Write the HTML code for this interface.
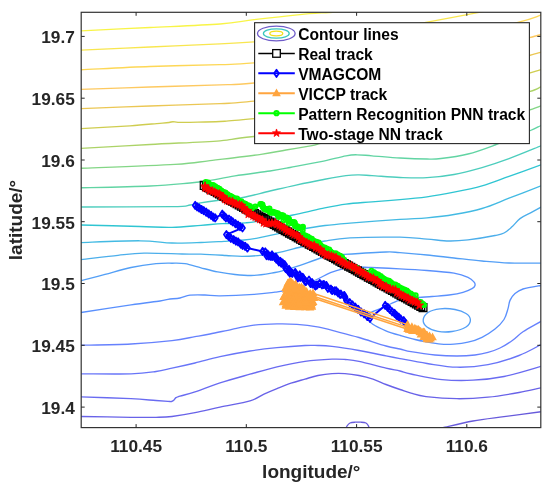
<!DOCTYPE html>
<html><head><meta charset="utf-8"><title>Track comparison</title>
<style>html,body{margin:0;padding:0;background:#fff}svg{display:block}</style></head>
<body>
<svg width="550" height="491" viewBox="0 0 550 491">
<defs><clipPath id="ax"><rect x="81.2" y="12.3" width="459.6" height="415.3"/></clipPath>
<path id="sq" d="M-3.9-3.9H3.9V3.9H-3.9Z" fill="none" stroke="#000" stroke-width="1.3"/>
<path id="di" d="M0-3.7L2.5 0L0 3.7L-2.5 0Z" fill="none" stroke="#0000ff" stroke-width="1.7" stroke-linejoin="round"/>
<path id="tr" d="M0-3.2L3.0 2.1H-3.0Z" fill="#ffa53f" stroke="#ffa53f" stroke-width="1.6" stroke-linejoin="miter"/>
<circle id="ci" r="2.1" fill="none" stroke="#00ff00" stroke-width="2"/>
<path id="st" d="M0.00 -4.50L1.09 -1.50L4.28 -1.39L1.76 0.57L2.65 3.64L0.00 1.85L-2.65 3.64L-1.76 0.57L-4.28 -1.39L-1.09 -1.50Z" fill="#ff0000" stroke="#ff0000" stroke-width="0.8"/>
</defs>
<rect width="550" height="491" fill="#fff"/>
<g clip-path="url(#ax)" fill="none" stroke-width="1.35" stroke-opacity="0.82">
<path d="M70.0 31.5C71.8 31.4 67.7 31.6 81.0 30.9C94.3 30.2 126.8 28.6 150.0 27.5C173.2 26.4 202.7 25.3 220.0 24.0C237.3 22.7 240.7 21.3 254.0 19.7C267.3 18.1 286.5 15.9 300.0 14.6C313.5 13.3 324.2 12.9 335.0 12.0C345.8 11.1 360.0 9.5 365.0 9.0" stroke="#f6f21e"/>
<path d="M70.0 50.7C71.8 50.6 67.7 50.8 81.0 50.2C94.3 49.6 126.8 48.1 150.0 47.0C173.2 45.9 202.7 44.7 220.0 43.8C237.3 42.9 240.7 42.7 254.0 41.8C267.3 40.9 284.0 39.9 300.0 38.5C316.0 37.1 333.3 35.4 350.0 33.5C366.7 31.6 387.6 28.8 400.0 27.0C412.4 25.2 411.3 25.1 424.5 22.7C437.7 20.3 466.4 14.8 479.0 12.4C491.6 10.0 496.5 8.7 500.0 8.0" stroke="#f6e028"/>
<path d="M70.0 70.3C71.8 70.2 67.7 70.4 81.0 69.8C94.3 69.2 126.8 67.3 150.0 66.5C173.2 65.7 202.7 65.3 220.0 64.7C237.3 64.1 232.3 64.8 254.0 62.9C275.7 60.9 317.3 57.1 350.0 53.0C382.7 48.9 422.2 43.0 450.0 38.0C477.8 33.0 501.8 26.5 517.0 22.7C532.2 18.9 535.2 17.1 541.0 15.1C546.8 13.2 550.2 11.7 552.0 11.0" stroke="#fdce31"/>
<path d="M70.0 89.9C71.8 89.8 67.7 89.9 81.0 89.4C94.3 88.9 126.8 87.8 150.0 87.0C173.2 86.2 202.7 85.5 220.0 84.8C237.3 84.1 224.0 85.8 254.0 83.0C284.0 80.2 362.3 73.2 400.0 68.0C437.7 62.8 458.4 57.0 480.0 52.0C501.6 47.0 519.1 40.6 529.3 37.7C539.5 34.8 537.2 35.6 541.0 34.5C544.8 33.4 550.2 31.6 552.0 31.0" stroke="#fdbd3d"/>
<path d="M70.0 109.2C71.8 109.1 67.7 109.2 81.0 108.7C94.3 108.2 126.8 106.8 150.0 106.0C173.2 105.2 202.7 104.4 220.0 103.6C237.3 102.8 224.0 104.0 254.0 101.1C284.0 98.2 362.3 91.2 400.0 86.0C437.7 80.8 458.4 75.1 480.0 70.0C501.6 64.9 519.1 58.5 529.3 55.5C539.5 52.5 537.2 53.3 541.0 52.2C544.8 51.1 550.2 49.5 552.0 49.0" stroke="#e7bb2e"/>
<path d="M70.0 129.2C71.8 129.1 71.0 129.2 81.0 128.6C91.0 128.0 116.8 126.7 130.0 125.8C143.2 124.9 153.5 123.8 160.0 123.3C166.5 122.8 166.8 122.8 169.0 122.5C171.2 122.2 171.5 121.7 173.0 121.7C174.5 121.7 175.2 122.3 178.0 122.4C180.8 122.5 183.0 122.5 190.0 122.3C197.0 122.1 209.3 122.1 220.0 121.5C230.7 120.9 224.0 121.6 254.0 118.7C284.0 115.8 362.3 109.1 400.0 104.0C437.7 98.9 458.4 93.1 480.0 88.0C501.6 82.9 519.1 76.3 529.3 73.2C539.5 70.1 537.2 70.8 541.0 69.6C544.8 68.4 550.2 66.6 552.0 66.0" stroke="#c4c22a"/>
<path d="M70.0 149.0C71.8 148.9 67.7 149.2 81.0 148.4C94.3 147.7 126.8 145.8 150.0 144.5C173.2 143.2 202.7 142.1 220.0 140.8C237.3 139.5 224.0 139.6 254.0 136.5C284.0 133.4 362.3 127.1 400.0 122.0C437.7 116.9 458.4 111.0 480.0 106.0C501.6 101.0 519.1 94.9 529.3 91.7C539.5 88.5 537.2 88.4 541.0 86.8C544.8 85.2 550.2 82.8 552.0 82.0" stroke="#9ac945"/>
<path d="M70.0 168.8C71.8 168.7 63.5 169.0 81.0 168.3C98.5 167.6 153.5 165.7 175.0 164.4C196.5 163.1 195.7 162.3 210.0 160.6C224.3 158.9 248.3 156.1 261.0 154.3C273.7 152.5 277.5 151.4 286.0 150.0C294.5 148.6 304.7 146.9 312.0 145.6C319.3 144.3 315.3 143.4 330.0 142.0C344.7 140.6 375.0 139.7 400.0 137.0C425.0 134.3 458.4 130.5 480.0 126.0C501.6 121.5 519.1 113.3 529.3 110.0C539.5 106.7 537.2 107.2 541.0 105.9C544.8 104.6 550.2 102.7 552.0 102.0" stroke="#68cd6b"/>
<path d="M70.0 188.0C71.8 188.0 67.7 188.1 81.0 187.8C94.3 187.5 131.8 186.8 150.0 186.0C168.2 185.2 180.5 183.8 190.0 183.0C199.5 182.2 199.5 182.2 207.0 181.0C214.5 179.8 224.5 177.6 235.0 175.9C245.5 174.2 260.8 172.4 270.0 171.0C279.2 169.6 281.5 169.1 290.0 167.5C298.5 165.9 311.7 163.5 321.0 161.6C330.3 159.7 340.0 156.9 346.0 155.8C352.0 154.7 352.7 154.8 357.0 154.8C361.3 154.8 364.8 155.3 372.0 155.8C379.2 156.3 390.8 157.5 400.0 158.0C409.2 158.5 420.2 158.9 427.0 159.0C433.8 159.1 434.2 159.3 441.0 158.5C447.8 157.7 459.0 156.2 468.0 154.0C477.0 151.8 484.8 148.8 495.0 145.0C505.2 141.2 521.6 134.2 529.3 131.0C537.0 127.8 537.2 127.3 541.0 125.5C544.8 123.7 550.2 120.9 552.0 120.0" stroke="#3eca8f"/>
<path d="M70.0 207.0C71.8 207.0 64.0 207.1 81.0 207.0C98.0 206.9 153.8 207.0 172.0 206.7C190.2 206.4 185.5 205.6 190.0 205.0C194.5 204.4 194.5 203.9 199.0 203.2C203.5 202.4 209.7 201.4 217.0 200.5C224.3 199.6 234.2 199.1 243.0 197.5C251.8 195.9 261.3 193.0 270.0 191.0C278.7 189.0 286.5 187.1 295.0 185.3C303.5 183.5 312.5 181.6 321.0 180.0C329.5 178.4 339.7 176.4 346.0 175.6C352.3 174.8 354.7 174.9 359.0 174.9C363.3 174.9 365.2 175.2 372.0 175.6C378.8 176.0 390.8 177.2 400.0 177.5C409.2 177.8 418.0 178.2 427.0 177.7C436.0 177.2 444.8 176.2 454.0 174.5C463.2 172.8 472.8 170.2 482.0 167.6C491.2 164.9 499.2 162.2 509.0 158.6C518.8 155.0 533.8 148.7 541.0 145.8C548.2 142.9 550.2 141.8 552.0 141.0" stroke="#24c2ae"/>
<path d="M70.0 224.8C71.8 224.8 69.3 224.7 81.0 225.0C92.7 225.3 124.8 226.1 140.0 226.5C155.2 226.9 161.8 227.5 172.0 227.3C182.2 227.1 192.6 225.9 201.0 225.3C209.4 224.7 215.2 224.0 222.6 223.6C230.0 223.2 239.5 223.2 245.5 222.8C251.5 222.4 250.7 222.5 258.6 221.2C266.5 219.9 282.6 217.1 293.0 215.0C303.4 212.9 312.2 210.5 321.0 208.7C329.8 206.9 337.5 205.2 346.0 204.1C354.5 202.9 363.0 202.6 372.0 201.8C381.0 201.1 390.8 200.4 400.0 199.6C409.2 198.8 418.0 198.0 427.0 196.8C436.0 195.6 444.8 194.0 454.0 192.2C463.2 190.4 472.8 188.5 482.0 185.9C491.2 183.3 499.2 179.9 509.0 176.4C518.8 172.9 533.8 167.5 541.0 164.9C548.2 162.3 550.2 161.7 552.0 161.0" stroke="#01b8c8"/>
<path d="M70.0 243.0C71.8 242.9 69.3 243.0 81.0 242.6C92.7 242.2 124.8 240.7 140.0 240.8C155.2 240.9 161.8 242.7 172.0 243.0C182.2 243.3 192.3 242.8 201.0 242.5C209.7 242.2 216.8 241.7 224.0 241.3C231.2 240.9 238.2 240.6 244.0 240.0C249.8 239.4 253.4 238.8 258.6 237.9C263.8 237.0 268.1 235.7 275.0 234.3C281.9 232.9 291.7 231.0 300.0 229.5C308.3 228.0 316.7 226.6 325.0 225.5C333.3 224.4 337.5 224.1 350.0 223.1C362.5 222.1 387.2 220.3 400.0 219.4C412.8 218.5 418.0 218.6 427.0 217.8C436.0 217.0 444.8 216.1 454.0 214.5C463.2 212.9 472.8 211.2 482.0 208.5C491.2 205.8 499.2 202.0 509.0 198.2C518.8 194.4 533.8 188.7 541.0 185.9C548.2 183.1 550.2 182.2 552.0 181.5" stroke="#1aabdd"/>
<path d="M70.0 261.0C71.8 260.8 73.0 260.6 81.0 259.6C89.0 258.7 107.5 256.4 118.0 255.3C128.5 254.2 133.3 253.4 144.0 253.2C154.7 253.0 172.5 253.8 182.0 254.0C191.5 254.2 193.7 253.9 201.0 254.2C208.3 254.4 219.2 255.1 226.0 255.5C232.8 255.9 236.0 256.4 242.0 256.4C248.0 256.3 256.2 255.8 262.0 255.2C267.8 254.6 269.7 254.4 276.5 253.0C283.3 251.6 294.5 248.5 302.6 246.5C310.7 244.5 317.1 242.4 325.0 241.0C332.9 239.6 337.5 238.4 350.0 237.8C362.5 237.2 387.2 237.0 400.0 237.2C412.8 237.4 418.8 238.5 427.0 239.1C435.2 239.7 442.2 240.9 449.0 241.0C455.8 241.1 460.3 240.8 468.0 239.9C475.7 239.0 489.0 236.7 495.0 235.5C501.0 234.3 501.2 234.4 504.0 233.0C506.8 231.6 509.3 229.2 512.0 226.8C514.7 224.4 516.8 221.0 520.0 218.6C523.2 216.2 527.5 214.5 531.0 212.6C534.5 210.7 537.5 209.1 541.0 207.2C544.5 205.3 550.2 202.0 552.0 201.0" stroke="#259ce7"/>
<path d="M70.0 283.5C71.8 283.0 75.2 282.2 81.0 280.7C86.8 279.2 96.7 276.6 105.0 274.4C113.3 272.2 122.5 269.3 131.0 267.5C139.5 265.7 149.2 264.4 156.0 263.7C162.8 263.0 167.2 263.2 172.0 263.2C176.8 263.2 180.2 262.9 185.0 263.7C189.8 264.5 195.6 266.4 201.0 267.8C206.4 269.2 212.0 270.8 217.7 271.9C223.4 273.0 228.9 273.9 235.0 274.5C241.1 275.1 247.3 275.7 254.0 275.4C260.7 275.1 270.0 273.3 275.0 272.5C280.0 271.7 280.2 271.4 284.0 270.4C287.8 269.3 291.6 268.3 297.7 266.2C303.8 264.1 315.1 259.8 320.6 258.0C326.1 256.2 326.8 256.1 330.5 255.5C334.2 254.9 333.8 255.1 343.0 254.5C352.2 253.9 376.5 252.3 386.0 252.0C395.5 251.7 393.2 252.2 400.0 252.7C406.8 253.2 418.0 254.1 427.0 255.0C436.0 255.9 444.8 257.0 454.0 258.0C463.2 259.0 472.8 260.2 482.0 261.0C491.2 261.8 499.2 262.6 509.0 263.0C518.8 263.4 533.8 263.1 541.0 263.1C548.2 263.1 550.2 263.0 552.0 263.0" stroke="#2d8af4"/>
<path d="M70.0 314.0C71.8 313.8 70.8 314.0 81.0 312.5C91.2 311.0 117.8 306.8 131.0 304.9C144.2 303.0 153.8 301.9 160.0 301.0C166.2 300.1 164.7 299.8 168.0 299.3C171.3 298.8 176.3 298.7 180.0 298.0C183.7 297.3 185.8 295.7 190.0 295.2C194.2 294.7 200.0 294.9 205.0 295.0C210.0 295.1 211.8 295.9 220.0 295.8C228.2 295.7 244.8 295.0 254.0 294.4C263.2 293.8 269.9 292.8 275.0 292.2C280.1 291.6 280.4 291.6 284.6 290.7C288.8 289.8 294.8 288.3 300.0 286.5C305.2 284.7 310.6 282.3 315.7 280.0C320.8 277.7 325.9 274.6 330.5 272.7C335.1 270.8 339.4 269.6 343.5 268.6C347.6 267.7 350.4 267.2 355.0 267.0C359.6 266.8 363.5 267.2 371.0 267.5C378.5 267.8 390.7 268.3 400.0 268.8C409.3 269.3 418.0 269.8 427.0 270.5C436.0 271.2 447.2 272.1 454.0 273.2C460.8 274.3 464.7 275.8 468.0 277.3C471.3 278.8 472.8 280.6 474.0 282.0C475.2 283.4 475.3 284.4 475.0 285.5C474.7 286.6 474.0 287.6 472.0 288.7C470.0 289.8 466.8 291.2 463.0 292.3C459.2 293.4 454.2 294.3 449.0 295.0C443.8 295.7 437.8 296.0 432.0 296.5C426.2 297.0 419.5 297.4 414.0 298.0C408.5 298.6 403.9 298.8 399.0 300.3C394.1 301.8 389.2 304.8 384.5 306.8C379.8 308.9 373.4 311.1 370.6 312.6C367.8 314.1 367.9 314.9 367.5 316.0C367.1 317.1 367.6 318.1 368.5 319.5C369.4 320.9 369.9 322.4 372.8 324.3C375.7 326.2 381.3 328.9 385.9 330.8C390.5 332.7 395.6 334.1 400.5 335.5C405.4 336.9 410.6 338.4 415.0 339.5C419.4 340.6 422.7 341.2 427.0 342.0C431.3 342.8 436.5 343.8 441.0 344.1C445.5 344.5 449.5 344.4 454.0 344.1C458.5 343.8 463.3 343.3 468.0 342.2C472.7 341.1 477.5 339.5 482.0 337.3C486.5 335.1 491.3 332.1 495.0 329.1C498.7 326.1 501.8 322.9 504.0 319.5C506.2 316.1 507.0 311.8 508.0 308.6C509.0 305.4 508.8 302.9 510.0 300.4C511.2 297.9 512.8 295.5 515.0 293.6C517.2 291.7 518.7 290.4 523.0 289.0C527.3 287.6 536.2 286.3 541.0 285.5C545.8 284.7 550.2 284.2 552.0 284.0" stroke="#3678fd"/>
<path d="M423.2 320.0C423.4 317.6 425.2 314.4 428.0 312.5C430.8 310.6 435.5 309.3 440.0 308.8C444.5 308.3 450.7 308.7 455.0 309.5C459.3 310.3 463.4 311.8 466.0 313.5C468.6 315.2 470.4 317.8 470.4 320.0C470.4 322.2 469.1 325.1 466.0 327.0C462.9 328.9 456.7 330.8 452.0 331.5C447.3 332.2 442.2 332.1 438.0 331.3C433.8 330.6 429.5 328.9 427.0 327.0C424.5 325.1 423.0 322.4 423.2 320.0Z" stroke="#2d8af4"/>
<path d="M70.0 345.4C71.8 345.4 70.8 345.4 81.0 345.2C91.2 345.0 115.8 344.8 131.0 344.0C146.2 343.2 161.3 341.8 172.0 340.6C182.7 339.4 188.7 337.8 195.0 336.7C201.3 335.6 203.8 335.2 210.0 334.0C216.2 332.8 224.7 330.8 232.0 329.3C239.3 327.8 246.5 326.1 254.0 325.2C261.5 324.3 269.8 324.0 277.0 323.9C284.2 323.8 290.0 323.8 297.0 324.3C304.0 324.8 312.7 326.0 319.0 327.1C325.3 328.2 328.3 329.5 335.0 331.2C341.7 332.9 350.5 335.0 359.0 337.5C367.5 340.0 379.2 344.1 386.0 346.0C392.8 347.9 395.8 348.1 400.0 349.0C404.2 349.9 405.2 350.7 411.0 351.7C416.8 352.7 427.3 354.3 435.0 355.0C442.7 355.7 450.3 356.0 457.0 356.0C463.7 356.0 469.8 355.6 475.0 355.0C480.2 354.4 483.8 353.6 488.0 352.4C492.2 351.2 495.8 350.1 500.0 348.0C504.2 345.9 509.2 342.7 513.0 340.0C516.8 337.3 518.3 334.9 523.0 331.8C527.7 328.7 536.2 324.2 541.0 321.4C545.8 318.6 550.2 316.1 552.0 315.0" stroke="#4465fd"/>
<path d="M70.0 373.8C71.8 373.8 70.8 373.8 81.0 373.8C91.2 373.8 118.5 374.2 131.0 373.8C143.5 373.4 149.2 372.4 156.0 371.5C162.8 370.6 165.5 369.6 172.0 368.2C178.5 366.8 187.0 364.9 195.0 363.0C203.0 361.1 210.8 358.7 220.0 356.7C229.2 354.7 240.5 352.5 250.0 351.0C259.5 349.5 267.8 348.6 277.0 347.7C286.2 346.8 298.2 345.9 305.0 345.5C311.8 345.1 313.5 345.4 318.0 345.5C322.5 345.6 325.2 345.6 332.0 346.4C338.8 347.2 350.0 348.9 359.0 350.5C368.0 352.1 379.2 354.5 386.0 355.9C392.8 357.2 393.2 357.3 400.0 358.6C406.8 359.9 417.5 362.1 427.0 363.5C436.5 364.9 446.8 367.0 457.0 367.2C467.2 367.4 477.7 366.6 488.0 364.7C498.3 362.8 510.2 358.9 519.0 355.5C527.8 352.1 535.5 347.4 541.0 344.6C546.5 341.9 550.2 339.9 552.0 339.0" stroke="#4757f7"/>
<path d="M70.0 396.5C71.8 396.6 70.8 396.5 81.0 396.9C91.2 397.3 118.5 398.1 131.0 398.7C143.5 399.3 149.8 400.1 156.0 400.5C162.2 400.9 165.4 401.1 168.0 401.3C170.6 401.5 170.5 401.7 171.5 401.5C172.5 401.3 173.2 400.6 174.0 400.0C174.8 399.4 175.0 398.2 176.0 397.6C177.0 397.0 176.8 397.2 180.0 396.2C183.2 395.2 188.3 394.0 195.0 391.8C201.7 389.6 210.8 385.8 220.0 382.9C229.2 380.0 240.5 376.9 250.0 374.2C259.5 371.5 267.8 368.9 277.0 366.8C286.2 364.7 295.8 362.7 305.0 361.4C314.2 360.1 325.3 359.5 332.0 359.2C338.7 358.9 340.5 359.1 345.0 359.5C349.5 359.9 352.2 359.9 359.0 361.4C365.8 362.8 379.2 366.6 386.0 368.2C392.8 369.8 395.8 370.0 400.0 371.0C404.2 372.0 404.0 372.6 411.0 374.0C418.0 375.4 431.7 378.6 442.0 379.6C452.3 380.6 462.7 380.7 473.0 380.2C483.3 379.7 492.7 378.8 504.0 376.5C515.3 374.2 533.0 368.6 541.0 366.3C549.0 364.1 550.2 363.6 552.0 363.0" stroke="#484aee"/>
<path d="M70.0 416.4C71.8 416.4 70.8 416.4 81.0 416.5C91.2 416.6 118.5 417.2 131.0 417.3C143.5 417.4 149.2 417.4 156.0 417.3C162.8 417.2 165.5 417.3 172.0 416.5C178.5 415.7 187.0 414.3 195.0 412.7C203.0 411.1 210.8 409.1 220.0 407.1C229.2 405.1 242.7 403.1 250.0 400.9C257.3 398.7 259.5 396.2 264.0 394.1C268.5 392.1 272.5 390.4 277.0 388.6C281.5 386.8 286.3 384.8 291.0 383.2C295.7 381.6 300.5 380.4 305.0 379.1C309.5 377.8 313.5 376.4 318.0 375.5C322.5 374.6 327.5 373.9 332.0 373.6C336.5 373.3 340.5 373.3 345.0 373.6C349.5 373.9 354.3 374.6 359.0 375.5C363.7 376.4 368.5 377.6 373.0 379.1C377.5 380.6 381.5 382.8 386.0 384.5C390.5 386.2 395.8 388.1 400.0 389.5C404.2 390.9 406.7 392.0 411.0 393.2C415.3 394.4 418.3 395.7 426.0 396.6C433.7 397.5 446.7 398.6 457.0 398.7C467.3 398.8 477.7 398.2 488.0 397.2C498.3 396.2 510.2 394.1 519.0 392.5C527.8 390.9 535.5 389.0 541.0 387.9C546.5 386.8 550.2 386.3 552.0 386.0" stroke="#473fe3"/>
<path d="M434.0 430.0C435.8 429.5 438.5 428.7 445.0 427.2C451.5 425.7 463.2 422.8 473.0 421.0C482.8 419.2 492.7 418.2 504.0 416.7C515.3 415.1 533.0 412.8 541.0 411.7C549.0 410.6 550.2 410.3 552.0 410.0" stroke="#4536d3"/>
<path d="M345.5 430.0C345.8 429.3 346.2 427.2 347.0 426.0C347.8 424.8 348.7 423.6 350.0 423.0C351.3 422.4 353.2 422.3 355.0 422.2C356.8 422.1 359.2 422.1 361.0 422.2C362.8 422.3 364.8 422.4 366.0 423.0C367.2 423.6 367.9 424.8 368.5 426.0C369.1 427.2 369.3 429.3 369.5 430.0" stroke="#4536d3"/>
</g>
<g clip-path="url(#ax)">
<path d="M204.2 185.4L206.4 186.6L208.6 187.8L210.8 189.1L213.0 190.3L215.1 191.5L217.3 192.7L219.5 194.0L221.7 195.2L223.9 196.4L226.1 197.6L228.3 198.8L230.5 200.1L232.6 201.3L234.8 202.5L237.0 203.7L239.2 205.0L241.4 206.2L243.6 207.4L245.8 208.6L248.0 209.8L250.1 211.1L252.3 212.3L254.5 213.5L256.7 214.7L258.9 216.0L261.1 217.2L263.3 218.4L265.5 219.6L267.7 220.8L269.8 222.1L272.0 223.3L274.2 224.5L276.4 225.7L278.6 226.9L280.8 228.2L283.0 229.4L285.2 230.6L287.3 231.8L289.5 233.1L291.7 234.3L293.9 235.5L296.1 236.7L298.3 237.9L300.5 239.2L302.7 240.4L304.8 241.6L307.0 242.8L309.2 244.1L311.4 245.3L313.6 246.5L315.8 247.7L318.0 248.9L320.2 250.2L322.4 251.4L324.5 252.6L326.7 253.8L328.9 255.1L331.1 256.3L333.3 257.5L335.5 258.7L337.7 259.9L339.9 261.2L342.0 262.4L344.2 263.6L346.4 264.8L348.6 266.1L350.8 267.3L353.0 268.5L355.2 269.7L357.4 270.9L359.5 272.2L361.7 273.4L363.9 274.6L366.1 275.8L368.3 277.1L370.5 278.3L372.7 279.5L374.9 280.7L377.1 281.9L379.2 283.2L381.4 284.4L383.6 285.6L385.8 286.8L388.0 288.0L390.2 289.3L392.4 290.5L394.6 291.7L396.7 292.9L398.9 294.2L401.1 295.4L403.3 296.6L405.5 297.8L407.7 299.0L409.9 300.3L412.1 301.5L414.2 302.7L416.4 303.9L418.6 305.2L420.8 306.4L423.0 307.6" fill="none" stroke="#000" stroke-width="1.2" stroke-linejoin="round"/>
<use href="#sq" x="204.2" y="185.4"/><use href="#sq" x="206.4" y="186.6"/><use href="#sq" x="208.6" y="187.8"/><use href="#sq" x="210.8" y="189.1"/><use href="#sq" x="213.0" y="190.3"/><use href="#sq" x="215.1" y="191.5"/><use href="#sq" x="217.3" y="192.7"/><use href="#sq" x="219.5" y="194.0"/><use href="#sq" x="221.7" y="195.2"/><use href="#sq" x="223.9" y="196.4"/><use href="#sq" x="226.1" y="197.6"/><use href="#sq" x="228.3" y="198.8"/><use href="#sq" x="230.5" y="200.1"/><use href="#sq" x="232.6" y="201.3"/><use href="#sq" x="234.8" y="202.5"/><use href="#sq" x="237.0" y="203.7"/><use href="#sq" x="239.2" y="205.0"/><use href="#sq" x="241.4" y="206.2"/><use href="#sq" x="243.6" y="207.4"/><use href="#sq" x="245.8" y="208.6"/><use href="#sq" x="248.0" y="209.8"/><use href="#sq" x="250.1" y="211.1"/><use href="#sq" x="252.3" y="212.3"/><use href="#sq" x="254.5" y="213.5"/><use href="#sq" x="256.7" y="214.7"/><use href="#sq" x="258.9" y="216.0"/><use href="#sq" x="261.1" y="217.2"/><use href="#sq" x="263.3" y="218.4"/><use href="#sq" x="265.5" y="219.6"/><use href="#sq" x="267.7" y="220.8"/><use href="#sq" x="269.8" y="222.1"/><use href="#sq" x="272.0" y="223.3"/><use href="#sq" x="274.2" y="224.5"/><use href="#sq" x="276.4" y="225.7"/><use href="#sq" x="278.6" y="226.9"/><use href="#sq" x="280.8" y="228.2"/><use href="#sq" x="283.0" y="229.4"/><use href="#sq" x="285.2" y="230.6"/><use href="#sq" x="287.3" y="231.8"/><use href="#sq" x="289.5" y="233.1"/><use href="#sq" x="291.7" y="234.3"/><use href="#sq" x="293.9" y="235.5"/><use href="#sq" x="296.1" y="236.7"/><use href="#sq" x="298.3" y="237.9"/><use href="#sq" x="300.5" y="239.2"/><use href="#sq" x="302.7" y="240.4"/><use href="#sq" x="304.8" y="241.6"/><use href="#sq" x="307.0" y="242.8"/><use href="#sq" x="309.2" y="244.1"/><use href="#sq" x="311.4" y="245.3"/><use href="#sq" x="313.6" y="246.5"/><use href="#sq" x="315.8" y="247.7"/><use href="#sq" x="318.0" y="248.9"/><use href="#sq" x="320.2" y="250.2"/><use href="#sq" x="322.4" y="251.4"/><use href="#sq" x="324.5" y="252.6"/><use href="#sq" x="326.7" y="253.8"/><use href="#sq" x="328.9" y="255.1"/><use href="#sq" x="331.1" y="256.3"/><use href="#sq" x="333.3" y="257.5"/><use href="#sq" x="335.5" y="258.7"/><use href="#sq" x="337.7" y="259.9"/><use href="#sq" x="339.9" y="261.2"/><use href="#sq" x="342.0" y="262.4"/><use href="#sq" x="344.2" y="263.6"/><use href="#sq" x="346.4" y="264.8"/><use href="#sq" x="348.6" y="266.1"/><use href="#sq" x="350.8" y="267.3"/><use href="#sq" x="353.0" y="268.5"/><use href="#sq" x="355.2" y="269.7"/><use href="#sq" x="357.4" y="270.9"/><use href="#sq" x="359.5" y="272.2"/><use href="#sq" x="361.7" y="273.4"/><use href="#sq" x="363.9" y="274.6"/><use href="#sq" x="366.1" y="275.8"/><use href="#sq" x="368.3" y="277.1"/><use href="#sq" x="370.5" y="278.3"/><use href="#sq" x="372.7" y="279.5"/><use href="#sq" x="374.9" y="280.7"/><use href="#sq" x="377.1" y="281.9"/><use href="#sq" x="379.2" y="283.2"/><use href="#sq" x="381.4" y="284.4"/><use href="#sq" x="383.6" y="285.6"/><use href="#sq" x="385.8" y="286.8"/><use href="#sq" x="388.0" y="288.0"/><use href="#sq" x="390.2" y="289.3"/><use href="#sq" x="392.4" y="290.5"/><use href="#sq" x="394.6" y="291.7"/><use href="#sq" x="396.7" y="292.9"/><use href="#sq" x="398.9" y="294.2"/><use href="#sq" x="401.1" y="295.4"/><use href="#sq" x="403.3" y="296.6"/><use href="#sq" x="405.5" y="297.8"/><use href="#sq" x="407.7" y="299.0"/><use href="#sq" x="409.9" y="300.3"/><use href="#sq" x="412.1" y="301.5"/><use href="#sq" x="414.2" y="302.7"/><use href="#sq" x="416.4" y="303.9"/><use href="#sq" x="418.6" y="305.2"/><use href="#sq" x="420.8" y="306.4"/><use href="#sq" x="423.0" y="307.6"/>
<path d="M195.2 205.4L197.1 206.8L199.2 208.0L201.5 209.5L203.7 210.6L206.2 212.2L208.7 213.9L211.1 215.4L213.3 217.1L215.2 217.9L222.3 214.2L224.3 216.2L225.9 217.8L229.0 219.1L231.1 220.7L232.8 221.9L235.5 223.7L238.0 225.1L240.1 226.6L242.5 227.9L226.4 234.6L228.6 236.4L230.9 238.3L233.6 239.6L235.9 241.1L238.1 241.9L240.7 244.1L242.6 245.3L245.1 246.3L247.4 248.0L262.6 251.4L265.3 251.9L266.7 255.7L267.6 254.1L268.9 256.0L270.9 256.4L272.0 254.9L272.3 256.4L274.9 257.4L275.9 257.1L276.3 259.1L278.9 261.8L280.2 261.3L281.3 263.2L282.5 263.0L284.6 264.6L286.1 268.7L285.5 268.0L288.4 271.2L289.0 269.4L289.8 273.1L291.1 272.6L292.3 273.3L295.2 272.5L296.3 274.8L297.7 276.4L297.8 277.8L299.7 274.9L300.2 277.4L302.5 277.3L303.3 278.2L305.1 281.1L305.9 281.6L309.0 280.1L310.6 283.5L312.1 282.7L312.6 284.0L315.3 285.7L315.6 285.8L317.0 285.0L319.7 283.5L322.0 284.9L323.8 284.5L326.3 285.5L327.9 288.3L330.9 289.1L332.2 290.5L334.8 290.8L336.2 290.9L338.1 292.9L340.1 294.4L340.9 294.2L344.2 295.5L345.1 297.2L346.4 300.6L349.7 302.6L352.5 304.9L355.3 307.2L358.1 309.3L361.0 312.0L364.1 313.8L367.3 316.5L370.0 318.3L385.2 305.4L387.6 307.3L389.7 309.4L392.2 311.9L394.6 313.4L396.5 315.4L398.7 317.1L400.6 319.0L403.7 320.7L405.5 323.1" fill="none" stroke="#0000ff" stroke-width="2" stroke-linejoin="round"/>
<use href="#di" x="195.2" y="205.4"/><use href="#di" x="197.1" y="206.8"/><use href="#di" x="199.2" y="208.0"/><use href="#di" x="201.5" y="209.5"/><use href="#di" x="203.7" y="210.6"/><use href="#di" x="206.2" y="212.2"/><use href="#di" x="208.7" y="213.9"/><use href="#di" x="211.1" y="215.4"/><use href="#di" x="213.3" y="217.1"/><use href="#di" x="215.2" y="217.9"/><use href="#di" x="222.3" y="214.2"/><use href="#di" x="224.3" y="216.2"/><use href="#di" x="225.9" y="217.8"/><use href="#di" x="229.0" y="219.1"/><use href="#di" x="231.1" y="220.7"/><use href="#di" x="232.8" y="221.9"/><use href="#di" x="235.5" y="223.7"/><use href="#di" x="238.0" y="225.1"/><use href="#di" x="240.1" y="226.6"/><use href="#di" x="242.5" y="227.9"/><use href="#di" x="226.4" y="234.6"/><use href="#di" x="228.6" y="236.4"/><use href="#di" x="230.9" y="238.3"/><use href="#di" x="233.6" y="239.6"/><use href="#di" x="235.9" y="241.1"/><use href="#di" x="238.1" y="241.9"/><use href="#di" x="240.7" y="244.1"/><use href="#di" x="242.6" y="245.3"/><use href="#di" x="245.1" y="246.3"/><use href="#di" x="247.4" y="248.0"/><use href="#di" x="262.6" y="251.4"/><use href="#di" x="265.3" y="251.9"/><use href="#di" x="266.7" y="255.7"/><use href="#di" x="267.6" y="254.1"/><use href="#di" x="268.9" y="256.0"/><use href="#di" x="270.9" y="256.4"/><use href="#di" x="272.0" y="254.9"/><use href="#di" x="272.3" y="256.4"/><use href="#di" x="274.9" y="257.4"/><use href="#di" x="275.9" y="257.1"/><use href="#di" x="276.3" y="259.1"/><use href="#di" x="278.9" y="261.8"/><use href="#di" x="280.2" y="261.3"/><use href="#di" x="281.3" y="263.2"/><use href="#di" x="282.5" y="263.0"/><use href="#di" x="284.6" y="264.6"/><use href="#di" x="286.1" y="268.7"/><use href="#di" x="285.5" y="268.0"/><use href="#di" x="288.4" y="271.2"/><use href="#di" x="289.0" y="269.4"/><use href="#di" x="289.8" y="273.1"/><use href="#di" x="291.1" y="272.6"/><use href="#di" x="292.3" y="273.3"/><use href="#di" x="295.2" y="272.5"/><use href="#di" x="296.3" y="274.8"/><use href="#di" x="297.7" y="276.4"/><use href="#di" x="297.8" y="277.8"/><use href="#di" x="299.7" y="274.9"/><use href="#di" x="300.2" y="277.4"/><use href="#di" x="302.5" y="277.3"/><use href="#di" x="303.3" y="278.2"/><use href="#di" x="305.1" y="281.1"/><use href="#di" x="305.9" y="281.6"/><use href="#di" x="309.0" y="280.1"/><use href="#di" x="310.6" y="283.5"/><use href="#di" x="312.1" y="282.7"/><use href="#di" x="312.6" y="284.0"/><use href="#di" x="315.3" y="285.7"/><use href="#di" x="315.6" y="285.8"/><use href="#di" x="317.0" y="285.0"/><use href="#di" x="319.7" y="283.5"/><use href="#di" x="322.0" y="284.9"/><use href="#di" x="323.8" y="284.5"/><use href="#di" x="326.3" y="285.5"/><use href="#di" x="327.9" y="288.3"/><use href="#di" x="330.9" y="289.1"/><use href="#di" x="332.2" y="290.5"/><use href="#di" x="334.8" y="290.8"/><use href="#di" x="336.2" y="290.9"/><use href="#di" x="338.1" y="292.9"/><use href="#di" x="340.1" y="294.4"/><use href="#di" x="340.9" y="294.2"/><use href="#di" x="344.2" y="295.5"/><use href="#di" x="345.1" y="297.2"/><use href="#di" x="346.4" y="300.6"/><use href="#di" x="349.7" y="302.6"/><use href="#di" x="352.5" y="304.9"/><use href="#di" x="355.3" y="307.2"/><use href="#di" x="358.1" y="309.3"/><use href="#di" x="361.0" y="312.0"/><use href="#di" x="364.1" y="313.8"/><use href="#di" x="367.3" y="316.5"/><use href="#di" x="370.0" y="318.3"/><use href="#di" x="385.2" y="305.4"/><use href="#di" x="387.6" y="307.3"/><use href="#di" x="389.7" y="309.4"/><use href="#di" x="392.2" y="311.9"/><use href="#di" x="394.6" y="313.4"/><use href="#di" x="396.5" y="315.4"/><use href="#di" x="398.7" y="317.1"/><use href="#di" x="400.6" y="319.0"/><use href="#di" x="403.7" y="320.7"/><use href="#di" x="405.5" y="323.1"/>
<path d="M290.3 282.9L295.2 290.1L311.4 304.8L299.8 298.6L304.6 301.5L297.4 293.9L304.2 299.1L299.9 295.0L291.5 290.6L288.9 282.9L298.9 298.3L305.4 307.3L292.8 289.1L310.3 300.6L288.4 301.4L288.5 289.0L285.6 288.2L294.2 285.9L290.6 286.7L293.6 303.6L294.2 307.1L287.3 287.1L295.6 303.2L308.4 306.3L292.9 283.8L290.0 299.8L292.0 283.9L288.9 291.1L296.3 291.8L310.5 300.6L311.3 301.8L292.1 287.0L287.5 301.1L288.9 289.0L303.6 298.3L308.4 304.5L301.5 287.4L289.4 282.8L285.8 305.8L310.7 297.5L298.0 303.5L311.9 306.9L289.9 302.0L302.7 296.3L288.3 287.3L289.7 295.6L310.2 293.7L295.0 293.8L286.2 299.0L295.6 284.2L291.9 294.4L293.6 289.0L296.1 303.5L295.4 305.8L304.3 306.8L294.1 292.2L299.8 307.3L295.4 304.5L288.3 288.4L299.7 287.8L307.5 306.3L302.8 293.8L296.0 295.0L296.2 297.7L297.0 289.8L309.0 302.1L307.9 302.0L299.1 287.6L307.8 303.3L310.0 307.5L299.1 307.1L287.9 283.5L305.8 306.2L286.4 302.3L302.0 305.8L293.7 301.5L302.3 297.9L303.4 289.6L299.5 306.2L288.5 295.0L303.7 291.1L283.6 297.0L313.1 302.2L304.5 290.0L289.4 306.5L287.6 295.9L299.3 297.1L291.8 284.8L309.8 299.8L292.7 301.0L306.4 304.4L301.0 289.7L290.1 297.1L289.9 282.5L289.1 306.7L304.0 298.9L297.8 304.2L306.5 304.9L296.6 300.1L288.1 296.4L306.3 296.8L306.5 300.5L293.8 303.4L311.1 306.1L312.2 303.2L304.1 303.7L292.1 289.3L290.7 299.8L294.0 285.5L296.6 301.8L293.2 299.4L298.7 302.7L287.0 291.8L293.2 303.9L290.8 281.7L306.6 291.9L284.2 296.9L283.1 302.4L306.5 302.3L295.2 288.2L287.8 283.5L294.4 305.8L288.9 290.6L300.2 301.2L308.6 297.3L293.2 285.8L285.9 304.4L305.2 300.7L286.4 289.8L309.4 294.9L313.0 293.2L407.5 324.6L408.0 327.4L313.5 296.3L313.8 298.2L407.6 329.2L409.1 329.9L409.6 329.1L411.9 327.1L410.6 330.1L411.9 328.6L412.5 330.9L412.8 330.9L414.1 330.6L414.9 328.6L414.9 329.4L414.8 331.0L416.9 329.5L416.9 330.1L417.3 331.2L418.6 329.9L418.8 330.5L419.7 331.5L420.2 331.8L420.2 331.9L420.4 332.4L421.9 332.2L420.9 334.7L422.3 333.5L423.4 332.3L423.8 333.1L424.4 332.6L423.8 337.0L424.5 335.3L425.7 335.4L426.6 335.2L426.8 336.2L427.4 335.8L427.2 338.3L426.9 338.9L427.5 339.4L429.6 336.3L429.4 339.5L430.2 338.2L430.4 338.5L432.5 337.4" fill="none" stroke="#ffa53f" stroke-width="1.5" stroke-linejoin="round"/>
<use href="#tr" x="290.3" y="282.9"/><use href="#tr" x="295.2" y="290.1"/><use href="#tr" x="311.4" y="304.8"/><use href="#tr" x="299.8" y="298.6"/><use href="#tr" x="304.6" y="301.5"/><use href="#tr" x="297.4" y="293.9"/><use href="#tr" x="304.2" y="299.1"/><use href="#tr" x="299.9" y="295.0"/><use href="#tr" x="291.5" y="290.6"/><use href="#tr" x="288.9" y="282.9"/><use href="#tr" x="298.9" y="298.3"/><use href="#tr" x="305.4" y="307.3"/><use href="#tr" x="292.8" y="289.1"/><use href="#tr" x="310.3" y="300.6"/><use href="#tr" x="288.4" y="301.4"/><use href="#tr" x="288.5" y="289.0"/><use href="#tr" x="285.6" y="288.2"/><use href="#tr" x="294.2" y="285.9"/><use href="#tr" x="290.6" y="286.7"/><use href="#tr" x="293.6" y="303.6"/><use href="#tr" x="294.2" y="307.1"/><use href="#tr" x="287.3" y="287.1"/><use href="#tr" x="295.6" y="303.2"/><use href="#tr" x="308.4" y="306.3"/><use href="#tr" x="292.9" y="283.8"/><use href="#tr" x="290.0" y="299.8"/><use href="#tr" x="292.0" y="283.9"/><use href="#tr" x="288.9" y="291.1"/><use href="#tr" x="296.3" y="291.8"/><use href="#tr" x="310.5" y="300.6"/><use href="#tr" x="311.3" y="301.8"/><use href="#tr" x="292.1" y="287.0"/><use href="#tr" x="287.5" y="301.1"/><use href="#tr" x="288.9" y="289.0"/><use href="#tr" x="303.6" y="298.3"/><use href="#tr" x="308.4" y="304.5"/><use href="#tr" x="301.5" y="287.4"/><use href="#tr" x="289.4" y="282.8"/><use href="#tr" x="285.8" y="305.8"/><use href="#tr" x="310.7" y="297.5"/><use href="#tr" x="298.0" y="303.5"/><use href="#tr" x="311.9" y="306.9"/><use href="#tr" x="289.9" y="302.0"/><use href="#tr" x="302.7" y="296.3"/><use href="#tr" x="288.3" y="287.3"/><use href="#tr" x="289.7" y="295.6"/><use href="#tr" x="310.2" y="293.7"/><use href="#tr" x="295.0" y="293.8"/><use href="#tr" x="286.2" y="299.0"/><use href="#tr" x="295.6" y="284.2"/><use href="#tr" x="291.9" y="294.4"/><use href="#tr" x="293.6" y="289.0"/><use href="#tr" x="296.1" y="303.5"/><use href="#tr" x="295.4" y="305.8"/><use href="#tr" x="304.3" y="306.8"/><use href="#tr" x="294.1" y="292.2"/><use href="#tr" x="299.8" y="307.3"/><use href="#tr" x="295.4" y="304.5"/><use href="#tr" x="288.3" y="288.4"/><use href="#tr" x="299.7" y="287.8"/><use href="#tr" x="307.5" y="306.3"/><use href="#tr" x="302.8" y="293.8"/><use href="#tr" x="296.0" y="295.0"/><use href="#tr" x="296.2" y="297.7"/><use href="#tr" x="297.0" y="289.8"/><use href="#tr" x="309.0" y="302.1"/><use href="#tr" x="307.9" y="302.0"/><use href="#tr" x="299.1" y="287.6"/><use href="#tr" x="307.8" y="303.3"/><use href="#tr" x="310.0" y="307.5"/><use href="#tr" x="299.1" y="307.1"/><use href="#tr" x="287.9" y="283.5"/><use href="#tr" x="305.8" y="306.2"/><use href="#tr" x="286.4" y="302.3"/><use href="#tr" x="302.0" y="305.8"/><use href="#tr" x="293.7" y="301.5"/><use href="#tr" x="302.3" y="297.9"/><use href="#tr" x="303.4" y="289.6"/><use href="#tr" x="299.5" y="306.2"/><use href="#tr" x="288.5" y="295.0"/><use href="#tr" x="303.7" y="291.1"/><use href="#tr" x="283.6" y="297.0"/><use href="#tr" x="313.1" y="302.2"/><use href="#tr" x="304.5" y="290.0"/><use href="#tr" x="289.4" y="306.5"/><use href="#tr" x="287.6" y="295.9"/><use href="#tr" x="299.3" y="297.1"/><use href="#tr" x="291.8" y="284.8"/><use href="#tr" x="309.8" y="299.8"/><use href="#tr" x="292.7" y="301.0"/><use href="#tr" x="306.4" y="304.4"/><use href="#tr" x="301.0" y="289.7"/><use href="#tr" x="290.1" y="297.1"/><use href="#tr" x="289.9" y="282.5"/><use href="#tr" x="289.1" y="306.7"/><use href="#tr" x="304.0" y="298.9"/><use href="#tr" x="297.8" y="304.2"/><use href="#tr" x="306.5" y="304.9"/><use href="#tr" x="296.6" y="300.1"/><use href="#tr" x="288.1" y="296.4"/><use href="#tr" x="306.3" y="296.8"/><use href="#tr" x="306.5" y="300.5"/><use href="#tr" x="293.8" y="303.4"/><use href="#tr" x="311.1" y="306.1"/><use href="#tr" x="312.2" y="303.2"/><use href="#tr" x="304.1" y="303.7"/><use href="#tr" x="292.1" y="289.3"/><use href="#tr" x="290.7" y="299.8"/><use href="#tr" x="294.0" y="285.5"/><use href="#tr" x="296.6" y="301.8"/><use href="#tr" x="293.2" y="299.4"/><use href="#tr" x="298.7" y="302.7"/><use href="#tr" x="287.0" y="291.8"/><use href="#tr" x="293.2" y="303.9"/><use href="#tr" x="290.8" y="281.7"/><use href="#tr" x="306.6" y="291.9"/><use href="#tr" x="284.2" y="296.9"/><use href="#tr" x="283.1" y="302.4"/><use href="#tr" x="306.5" y="302.3"/><use href="#tr" x="295.2" y="288.2"/><use href="#tr" x="287.8" y="283.5"/><use href="#tr" x="294.4" y="305.8"/><use href="#tr" x="288.9" y="290.6"/><use href="#tr" x="300.2" y="301.2"/><use href="#tr" x="308.6" y="297.3"/><use href="#tr" x="293.2" y="285.8"/><use href="#tr" x="285.9" y="304.4"/><use href="#tr" x="305.2" y="300.7"/><use href="#tr" x="286.4" y="289.8"/><use href="#tr" x="309.4" y="294.9"/><use href="#tr" x="313.0" y="293.2"/><use href="#tr" x="407.5" y="324.6"/><use href="#tr" x="408.0" y="327.4"/><use href="#tr" x="313.5" y="296.3"/><use href="#tr" x="313.8" y="298.2"/><use href="#tr" x="407.6" y="329.2"/><use href="#tr" x="409.1" y="329.9"/><use href="#tr" x="409.6" y="329.1"/><use href="#tr" x="411.9" y="327.1"/><use href="#tr" x="410.6" y="330.1"/><use href="#tr" x="411.9" y="328.6"/><use href="#tr" x="412.5" y="330.9"/><use href="#tr" x="412.8" y="330.9"/><use href="#tr" x="414.1" y="330.6"/><use href="#tr" x="414.9" y="328.6"/><use href="#tr" x="414.9" y="329.4"/><use href="#tr" x="414.8" y="331.0"/><use href="#tr" x="416.9" y="329.5"/><use href="#tr" x="416.9" y="330.1"/><use href="#tr" x="417.3" y="331.2"/><use href="#tr" x="418.6" y="329.9"/><use href="#tr" x="418.8" y="330.5"/><use href="#tr" x="419.7" y="331.5"/><use href="#tr" x="420.2" y="331.8"/><use href="#tr" x="420.2" y="331.9"/><use href="#tr" x="420.4" y="332.4"/><use href="#tr" x="421.9" y="332.2"/><use href="#tr" x="420.9" y="334.7"/><use href="#tr" x="422.3" y="333.5"/><use href="#tr" x="423.4" y="332.3"/><use href="#tr" x="423.8" y="333.1"/><use href="#tr" x="424.4" y="332.6"/><use href="#tr" x="423.8" y="337.0"/><use href="#tr" x="424.5" y="335.3"/><use href="#tr" x="425.7" y="335.4"/><use href="#tr" x="426.6" y="335.2"/><use href="#tr" x="426.8" y="336.2"/><use href="#tr" x="427.4" y="335.8"/><use href="#tr" x="427.2" y="338.3"/><use href="#tr" x="426.9" y="338.9"/><use href="#tr" x="427.5" y="339.4"/><use href="#tr" x="429.6" y="336.3"/><use href="#tr" x="429.4" y="339.5"/><use href="#tr" x="430.2" y="338.2"/><use href="#tr" x="430.4" y="338.5"/><use href="#tr" x="432.5" y="337.4"/>
<path d="M205.8 182.2L208.2 182.6L210.4 184.5L213.1 185.1L215.1 186.3L217.5 187.9L219.4 188.8L221.3 190.5L223.2 191.9L225.4 192.7L227.5 194.4L230.2 195.9L232.0 196.8L234.2 198.2L237.0 198.5L238.4 200.5L241.3 201.4L243.4 203.2L245.4 203.9L248.1 205.4L249.8 206.0L252.1 207.9L255.3 206.5L260.4 204.0L261.1 204.0L262.4 204.7L262.6 206.5L263.1 207.3L264.2 208.7L265.6 209.6L266.8 209.2L269.4 208.5L268.8 210.8L269.6 211.6L270.6 212.7L273.1 211.9L273.4 212.7L275.3 212.5L276.1 213.2L277.9 213.3L277.8 215.2L278.7 216.8L280.8 215.0L282.1 215.3L283.3 215.7L283.6 217.1L283.6 220.2L286.7 217.7L287.4 218.6L288.9 218.9L288.9 221.0L288.9 223.5L291.3 221.8L292.6 223.0L294.1 222.1L294.8 223.0L294.9 225.7L296.2 226.3L297.4 226.4L298.4 227.9L299.6 227.5L301.5 227.6L302.9 226.8L302.6 230.3L303.0 234.4L305.4 235.6L307.8 236.7L309.7 238.1L311.8 238.9L313.8 240.9L316.4 241.9L318.7 242.6L320.3 244.9L322.1 246.7L324.7 247.7L326.6 248.7L329.2 249.6L330.6 251.6L332.6 253.2L335.7 253.4L337.7 254.7L340.2 255.8L342.0 257.2L343.7 259.6L344.9 262.2L346.8 264.0L349.1 265.2L351.1 266.6L353.4 267.6L356.4 267.8L357.6 270.1L359.8 271.0L363.0 271.5L364.8 273.7L366.8 273.7L371.5 270.8L374.0 272.4L375.9 273.9L378.2 274.5L380.6 276.0L382.2 277.7L384.1 278.8L386.5 280.1L389.0 280.9L390.9 282.3L392.8 284.0L395.3 284.7L397.7 285.8L399.9 287.6L402.0 288.7L404.4 289.5L406.7 290.6L408.2 292.0L410.8 293.6L412.5 295.2L415.6 295.3L416.0 299.2L417.7 301.5L420.7 302.1L422.5 303.9L424.0 305.0" fill="none" stroke="#00ff00" stroke-width="2" stroke-linejoin="round"/>
<use href="#ci" x="205.8" y="182.2"/><use href="#ci" x="208.2" y="182.6"/><use href="#ci" x="210.4" y="184.5"/><use href="#ci" x="213.1" y="185.1"/><use href="#ci" x="215.1" y="186.3"/><use href="#ci" x="217.5" y="187.9"/><use href="#ci" x="219.4" y="188.8"/><use href="#ci" x="221.3" y="190.5"/><use href="#ci" x="223.2" y="191.9"/><use href="#ci" x="225.4" y="192.7"/><use href="#ci" x="227.5" y="194.4"/><use href="#ci" x="230.2" y="195.9"/><use href="#ci" x="232.0" y="196.8"/><use href="#ci" x="234.2" y="198.2"/><use href="#ci" x="237.0" y="198.5"/><use href="#ci" x="238.4" y="200.5"/><use href="#ci" x="241.3" y="201.4"/><use href="#ci" x="243.4" y="203.2"/><use href="#ci" x="245.4" y="203.9"/><use href="#ci" x="248.1" y="205.4"/><use href="#ci" x="249.8" y="206.0"/><use href="#ci" x="252.1" y="207.9"/><use href="#ci" x="255.3" y="206.5"/><use href="#ci" x="260.4" y="204.0"/><use href="#ci" x="261.1" y="204.0"/><use href="#ci" x="262.4" y="204.7"/><use href="#ci" x="262.6" y="206.5"/><use href="#ci" x="263.1" y="207.3"/><use href="#ci" x="264.2" y="208.7"/><use href="#ci" x="265.6" y="209.6"/><use href="#ci" x="266.8" y="209.2"/><use href="#ci" x="269.4" y="208.5"/><use href="#ci" x="268.8" y="210.8"/><use href="#ci" x="269.6" y="211.6"/><use href="#ci" x="270.6" y="212.7"/><use href="#ci" x="273.1" y="211.9"/><use href="#ci" x="273.4" y="212.7"/><use href="#ci" x="275.3" y="212.5"/><use href="#ci" x="276.1" y="213.2"/><use href="#ci" x="277.9" y="213.3"/><use href="#ci" x="277.8" y="215.2"/><use href="#ci" x="278.7" y="216.8"/><use href="#ci" x="280.8" y="215.0"/><use href="#ci" x="282.1" y="215.3"/><use href="#ci" x="283.3" y="215.7"/><use href="#ci" x="283.6" y="217.1"/><use href="#ci" x="283.6" y="220.2"/><use href="#ci" x="286.7" y="217.7"/><use href="#ci" x="287.4" y="218.6"/><use href="#ci" x="288.9" y="218.9"/><use href="#ci" x="288.9" y="221.0"/><use href="#ci" x="288.9" y="223.5"/><use href="#ci" x="291.3" y="221.8"/><use href="#ci" x="292.6" y="223.0"/><use href="#ci" x="294.1" y="222.1"/><use href="#ci" x="294.8" y="223.0"/><use href="#ci" x="294.9" y="225.7"/><use href="#ci" x="296.2" y="226.3"/><use href="#ci" x="297.4" y="226.4"/><use href="#ci" x="298.4" y="227.9"/><use href="#ci" x="299.6" y="227.5"/><use href="#ci" x="301.5" y="227.6"/><use href="#ci" x="302.9" y="226.8"/><use href="#ci" x="302.6" y="230.3"/><use href="#ci" x="303.0" y="234.4"/><use href="#ci" x="305.4" y="235.6"/><use href="#ci" x="307.8" y="236.7"/><use href="#ci" x="309.7" y="238.1"/><use href="#ci" x="311.8" y="238.9"/><use href="#ci" x="313.8" y="240.9"/><use href="#ci" x="316.4" y="241.9"/><use href="#ci" x="318.7" y="242.6"/><use href="#ci" x="320.3" y="244.9"/><use href="#ci" x="322.1" y="246.7"/><use href="#ci" x="324.7" y="247.7"/><use href="#ci" x="326.6" y="248.7"/><use href="#ci" x="329.2" y="249.6"/><use href="#ci" x="330.6" y="251.6"/><use href="#ci" x="332.6" y="253.2"/><use href="#ci" x="335.7" y="253.4"/><use href="#ci" x="337.7" y="254.7"/><use href="#ci" x="340.2" y="255.8"/><use href="#ci" x="342.0" y="257.2"/><use href="#ci" x="343.7" y="259.6"/><use href="#ci" x="344.9" y="262.2"/><use href="#ci" x="346.8" y="264.0"/><use href="#ci" x="349.1" y="265.2"/><use href="#ci" x="351.1" y="266.6"/><use href="#ci" x="353.4" y="267.6"/><use href="#ci" x="356.4" y="267.8"/><use href="#ci" x="357.6" y="270.1"/><use href="#ci" x="359.8" y="271.0"/><use href="#ci" x="363.0" y="271.5"/><use href="#ci" x="364.8" y="273.7"/><use href="#ci" x="366.8" y="273.7"/><use href="#ci" x="371.5" y="270.8"/><use href="#ci" x="374.0" y="272.4"/><use href="#ci" x="375.9" y="273.9"/><use href="#ci" x="378.2" y="274.5"/><use href="#ci" x="380.6" y="276.0"/><use href="#ci" x="382.2" y="277.7"/><use href="#ci" x="384.1" y="278.8"/><use href="#ci" x="386.5" y="280.1"/><use href="#ci" x="389.0" y="280.9"/><use href="#ci" x="390.9" y="282.3"/><use href="#ci" x="392.8" y="284.0"/><use href="#ci" x="395.3" y="284.7"/><use href="#ci" x="397.7" y="285.8"/><use href="#ci" x="399.9" y="287.6"/><use href="#ci" x="402.0" y="288.7"/><use href="#ci" x="404.4" y="289.5"/><use href="#ci" x="406.7" y="290.6"/><use href="#ci" x="408.2" y="292.0"/><use href="#ci" x="410.8" y="293.6"/><use href="#ci" x="412.5" y="295.2"/><use href="#ci" x="415.6" y="295.3"/><use href="#ci" x="416.0" y="299.2"/><use href="#ci" x="417.7" y="301.5"/><use href="#ci" x="420.7" y="302.1"/><use href="#ci" x="422.5" y="303.9"/><use href="#ci" x="424.0" y="305.0"/>
<path d="M205.0 186.3L205.5 188.1L208.0 188.8L209.7 190.9L212.5 191.1L214.8 192.2L216.9 193.5L219.5 193.9L221.2 196.1L223.5 197.1L225.1 199.3L227.2 200.7L229.8 201.3L232.5 201.6L234.3 203.5L236.7 204.2L239.3 204.8L241.7 205.7L243.3 207.9L245.0 210.0L247.3 211.0L248.5 214.1L251.3 214.1L253.3 215.8L255.5 216.9L257.7 218.1L259.9 219.3L262.3 220.1L263.7 222.7L266.2 223.5L269.1 223.4L272.0 223.3L275.2 222.7L277.2 224.4L279.4 225.6L281.5 226.8L283.9 227.7L285.7 229.7L287.7 231.3L290.2 231.9L292.3 233.3L294.3 234.7L296.9 235.3L298.8 237.1L300.4 239.3L302.6 240.4L304.6 242.1L307.0 242.9L309.2 244.1L311.2 245.7L314.2 245.4L315.8 247.7L318.2 248.5L320.5 249.5L321.9 252.1L324.2 253.1L326.0 255.2L328.8 255.2L331.3 255.9L333.6 257.0L336.1 257.5L337.8 259.7L340.2 260.5L342.2 262.1L344.3 263.5L346.4 264.9L349.0 265.3L351.5 265.9L353.5 267.5L356.0 268.3L357.6 270.5L360.1 271.1L362.0 272.8L364.4 273.8L366.4 275.3L368.3 277.1L370.8 277.8L373.4 278.2L375.1 280.3L377.6 280.9L379.3 283.0L381.2 284.7L383.2 286.3L386.0 286.4L387.8 288.4L390.3 289.0L392.9 289.6L395.5 290.0L396.9 292.6L399.2 293.6L401.3 295.1L403.6 296.0L405.8 297.3L408.2 298.2L410.1 299.9L412.6 300.6L414.8 301.8L417.3 302.4L419.3 305.4" fill="none" stroke="#ff0000" stroke-width="2" stroke-linejoin="round"/>
<use href="#st" x="205.0" y="186.3"/><use href="#st" x="205.5" y="188.1"/><use href="#st" x="208.0" y="188.8"/><use href="#st" x="209.7" y="190.9"/><use href="#st" x="212.5" y="191.1"/><use href="#st" x="214.8" y="192.2"/><use href="#st" x="216.9" y="193.5"/><use href="#st" x="219.5" y="193.9"/><use href="#st" x="221.2" y="196.1"/><use href="#st" x="223.5" y="197.1"/><use href="#st" x="225.1" y="199.3"/><use href="#st" x="227.2" y="200.7"/><use href="#st" x="229.8" y="201.3"/><use href="#st" x="232.5" y="201.6"/><use href="#st" x="234.3" y="203.5"/><use href="#st" x="236.7" y="204.2"/><use href="#st" x="239.3" y="204.8"/><use href="#st" x="241.7" y="205.7"/><use href="#st" x="243.3" y="207.9"/><use href="#st" x="245.0" y="210.0"/><use href="#st" x="247.3" y="211.0"/><use href="#st" x="248.5" y="214.1"/><use href="#st" x="251.3" y="214.1"/><use href="#st" x="253.3" y="215.8"/><use href="#st" x="255.5" y="216.9"/><use href="#st" x="257.7" y="218.1"/><use href="#st" x="259.9" y="219.3"/><use href="#st" x="262.3" y="220.1"/><use href="#st" x="263.7" y="222.7"/><use href="#st" x="266.2" y="223.5"/><use href="#st" x="269.1" y="223.4"/><use href="#st" x="272.0" y="223.3"/><use href="#st" x="275.2" y="222.7"/><use href="#st" x="277.2" y="224.4"/><use href="#st" x="279.4" y="225.6"/><use href="#st" x="281.5" y="226.8"/><use href="#st" x="283.9" y="227.7"/><use href="#st" x="285.7" y="229.7"/><use href="#st" x="287.7" y="231.3"/><use href="#st" x="290.2" y="231.9"/><use href="#st" x="292.3" y="233.3"/><use href="#st" x="294.3" y="234.7"/><use href="#st" x="296.9" y="235.3"/><use href="#st" x="298.8" y="237.1"/><use href="#st" x="300.4" y="239.3"/><use href="#st" x="302.6" y="240.4"/><use href="#st" x="304.6" y="242.1"/><use href="#st" x="307.0" y="242.9"/><use href="#st" x="309.2" y="244.1"/><use href="#st" x="311.2" y="245.7"/><use href="#st" x="314.2" y="245.4"/><use href="#st" x="315.8" y="247.7"/><use href="#st" x="318.2" y="248.5"/><use href="#st" x="320.5" y="249.5"/><use href="#st" x="321.9" y="252.1"/><use href="#st" x="324.2" y="253.1"/><use href="#st" x="326.0" y="255.2"/><use href="#st" x="328.8" y="255.2"/><use href="#st" x="331.3" y="255.9"/><use href="#st" x="333.6" y="257.0"/><use href="#st" x="336.1" y="257.5"/><use href="#st" x="337.8" y="259.7"/><use href="#st" x="340.2" y="260.5"/><use href="#st" x="342.2" y="262.1"/><use href="#st" x="344.3" y="263.5"/><use href="#st" x="346.4" y="264.9"/><use href="#st" x="349.0" y="265.3"/><use href="#st" x="351.5" y="265.9"/><use href="#st" x="353.5" y="267.5"/><use href="#st" x="356.0" y="268.3"/><use href="#st" x="357.6" y="270.5"/><use href="#st" x="360.1" y="271.1"/><use href="#st" x="362.0" y="272.8"/><use href="#st" x="364.4" y="273.8"/><use href="#st" x="366.4" y="275.3"/><use href="#st" x="368.3" y="277.1"/><use href="#st" x="370.8" y="277.8"/><use href="#st" x="373.4" y="278.2"/><use href="#st" x="375.1" y="280.3"/><use href="#st" x="377.6" y="280.9"/><use href="#st" x="379.3" y="283.0"/><use href="#st" x="381.2" y="284.7"/><use href="#st" x="383.2" y="286.3"/><use href="#st" x="386.0" y="286.4"/><use href="#st" x="387.8" y="288.4"/><use href="#st" x="390.3" y="289.0"/><use href="#st" x="392.9" y="289.6"/><use href="#st" x="395.5" y="290.0"/><use href="#st" x="396.9" y="292.6"/><use href="#st" x="399.2" y="293.6"/><use href="#st" x="401.3" y="295.1"/><use href="#st" x="403.6" y="296.0"/><use href="#st" x="405.8" y="297.3"/><use href="#st" x="408.2" y="298.2"/><use href="#st" x="410.1" y="299.9"/><use href="#st" x="412.6" y="300.6"/><use href="#st" x="414.8" y="301.8"/><use href="#st" x="417.3" y="302.4"/><use href="#st" x="419.3" y="305.4"/>
</g>
<rect x="81.2" y="12.3" width="459.6" height="415.3" fill="none" stroke="#333" stroke-width="1.2"/>
<path d="M136.1 427.6v-3.5M136.1 12.3v3.5M246.3 427.6v-3.5M246.3 12.3v3.5M356.6 427.6v-3.5M356.6 12.3v3.5M466.8 427.6v-3.5M466.8 12.3v3.5M81.2 36.4h3.5M540.8 36.4h-3.5M81.2 98.2h3.5M540.8 98.2h-3.5M81.2 160h3.5M540.8 160h-3.5M81.2 221.7h3.5M540.8 221.7h-3.5M81.2 283.5h3.5M540.8 283.5h-3.5M81.2 345.3h3.5M540.8 345.3h-3.5M81.2 407.1h3.5M540.8 407.1h-3.5" stroke="#262626" stroke-width="1" fill="none"/>
<g font-family="'Liberation Sans', Arial, sans-serif" font-weight="bold" fill="#262626">
<text x="136.1" y="452.4" font-size="17.3" text-anchor="middle">110.45</text>
<text x="246.3" y="452.4" font-size="17.3" text-anchor="middle">110.5</text>
<text x="356.6" y="452.4" font-size="17.3" text-anchor="middle">110.55</text>
<text x="466.8" y="452.4" font-size="17.3" text-anchor="middle">110.6</text>
<text x="74.8" y="43.2" font-size="17.3" text-anchor="end">19.7</text>
<text x="74.8" y="105" font-size="17.3" text-anchor="end">19.65</text>
<text x="74.8" y="166.8" font-size="17.3" text-anchor="end">19.6</text>
<text x="74.8" y="228.5" font-size="17.3" text-anchor="end">19.55</text>
<text x="74.8" y="290.3" font-size="17.3" text-anchor="end">19.5</text>
<text x="74.8" y="352.1" font-size="17.3" text-anchor="end">19.45</text>
<text x="74.8" y="413.9" font-size="17.3" text-anchor="end">19.4</text>
<text x="311.3" y="478.1" font-size="19" text-anchor="middle">longitude/°</text>
<text transform="translate(22.4 220) rotate(-90)" font-size="19" text-anchor="middle">latitude/°</text>
</g>
<rect x="254.6" y="22.7" width="274.8" height="120.9" fill="#fff" stroke="#262626" stroke-width="1.1"/>
<g fill="none" stroke-width="1.3"><ellipse cx="276.3" cy="33.5" rx="18.8" ry="7.4" stroke="#6f5cc9"/><ellipse cx="276.3" cy="33.5" rx="12.9" ry="4.7" stroke="#3cc7bd"/><ellipse cx="276.3" cy="33.5" rx="6.5" ry="2.3" stroke="#f2e01e"/></g>
<path d="M258.3 53.43H294.8" stroke="#000" stroke-width="1.5"/>
<rect x="272.7" y="49.63" width="7.6" height="7.6" fill="#fff" stroke="#000" stroke-width="1.3"/>
<path d="M258.3 73.36H294.8" stroke="#0000ff" stroke-width="2"/>
<use href="#di" x="276.5" y="73.36"/>
<path d="M258.3 93.29H294.8" stroke="#ffa53f" stroke-width="2"/>
<use href="#tr" x="276.5" y="93.29"/>
<path d="M258.3 113.22H294.8" stroke="#00ff00" stroke-width="2"/>
<use href="#ci" x="276.5" y="113.22"/>
<path d="M258.3 133.15H294.8" stroke="#ff0000" stroke-width="2"/>
<use href="#st" transform="translate(276.5 133.15) scale(0.93)"/>
<g font-family="'Liberation Sans', Arial, sans-serif" font-weight="bold" font-size="15.6" fill="#000">
<text x="298.2" y="39.8">Contour lines</text>
<text x="298.2" y="59.7">Real track</text>
<text x="298.2" y="79.7">VMAGCOM</text>
<text x="298.2" y="99.6">VICCP track</text>
<text x="298.2" y="119.5">Pattern Recognition PNN track</text>
<text x="298.2" y="139.5">Two-stage NN track</text>
</g>
</svg>
</body></html>
